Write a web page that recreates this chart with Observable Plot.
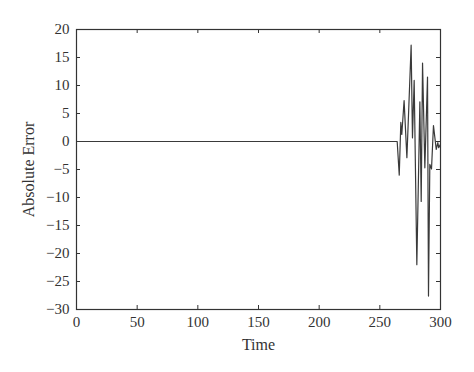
<!DOCTYPE html>
<html><head><meta charset="utf-8">
<script src="https://cdn.jsdelivr.net/npm/d3@7"></script>
<script src="https://cdn.jsdelivr.net/npm/@observablehq/plot@0.6"></script>
<style>body{margin:0;background:#fff}</style>
</head><body><div id="chart"></div>
<script>
const time  = [0, 264.3, 266.0, 267.3, 268.1, 270.0, 272.3, 275.8, 276.9, 278.3, 280.5, 283.0, 284.1, 285.2, 287.1, 289.3, 290.1, 291.2, 292.6, 294.2, 296.5, 297.8, 298.5, 300];
const error = [0, 0, -6.0, 3.4, 1.25, 7.3, -2.9, 17.2, 0.65, 10.9, -22.0, 7.1, -10.7, 14.0, -4.7, 11.5, -27.6, -4.1, -4.9, 2.85, -1.4, -0.2, -1.1, -0.5];
const xTicks = [0, 50, 100, 150, 200, 250, 300];
const yTicks = [-30, -25, -20, -15, -10, -5, 0, 5, 10, 15, 20];
const data = time.map((t, i) => ({t, e: error[i]}));

const W = 474, H = 372, mL = 76, mR = 34, mT = 29, mB = 63;
const fh = H - mT - mB, fw = W - mL - mR, tl = 4;
const ink = "#333";

const chart = Plot.plot({
  width: W, height: H,
  marginLeft: mL, marginRight: mR, marginTop: mT, marginBottom: mB,
  style: {fontFamily: "'Liberation Serif', serif", fontSize: "15px", color: ink, background: "#fff"},
  x: {domain: [0, 300]},
  y: {domain: [-30, 20]},
  marks: [
    Plot.axisX({ticks: xTicks, tickSize: 0, tickPadding: 7, fontSize: 15, label: null, fill: ink}),
    Plot.axisX({ticks: [], tickSize: 0, fontSize: 16, label: "Time", labelAnchor: "center", labelArrow: "none", labelOffset: 40, fill: ink}),
    Plot.axisY({ticks: yTicks, tickSize: 0, tickPadding: 7, fontSize: 15, tickFormat: d => d < 0 ? "\u2212" + Math.abs(d) : String(d), label: null, fill: ink}),
    Plot.axisY({ticks: [], tickSize: 0, fontSize: 16, label: "Absolute Error", labelAnchor: "center", labelArrow: "none", labelOffset: 54, fill: ink}),
    Plot.ruleX(xTicks, {x: d => d, insetTop: fh - tl, stroke: ink}),
    Plot.ruleX(xTicks, {x: d => d, insetBottom: fh - tl, stroke: ink}),
    Plot.ruleY(yTicks, {y: d => d, insetRight: fw - tl, stroke: ink}),
    Plot.ruleY(yTicks, {y: d => d, insetLeft: fw - tl, stroke: ink}),
    Plot.line(data, {x: "t", y: "e", stroke: "#3a3a3a", strokeWidth: 1.2}),
    Plot.frame({stroke: ink, strokeWidth: 1.2})
  ]
});
document.getElementById("chart").appendChild(chart);
</script></body></html>
